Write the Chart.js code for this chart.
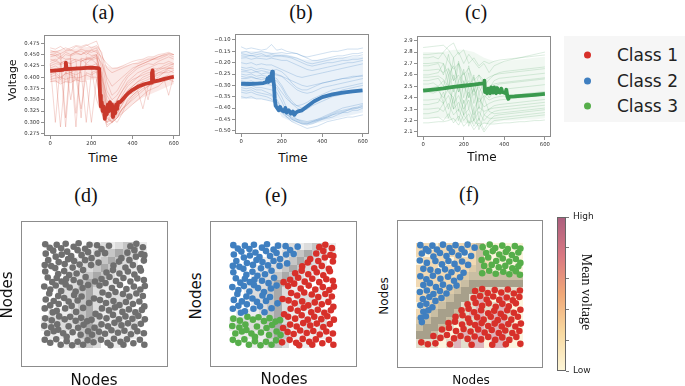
<!DOCTYPE html>
<html>
<head>
<meta charset="utf-8">
<script src="https://cdn.jsdelivr.net/npm/chart.js"></script>
<style>
  body { margin: 0; background: #fff; }
  #fig { position: relative; width: 685px; height: 386px; overflow: hidden; font-family: 'DejaVu Sans', sans-serif; }
  canvas { position: absolute; }
  .lbl { position: absolute; transform: translate(-50%, -50%); white-space: nowrap; line-height: 1; color: #111; }
  .rot { transform: translate(-50%, -50%) rotate(-90deg); }
  .ttl { font-family: 'Liberation Serif', serif; font-size: 20px; }
  #legend { position: absolute; left: 564px; top: 36px; width: 121px; height: 86px; background: #f6f6f6; }
  .item { position: absolute; left: 53px; font-size: 17px; line-height: 1; transform: translateY(-50%); color: #222; }
  .dot { position: absolute; left: 19.5px; width: 7px; height: 7px; border-radius: 50%; transform: translateY(-50%); }
</style>
</head>
<body>
<div id="fig">
  <canvas id="ca" width="190" height="120" style="left:0;top:30px"></canvas>
  <canvas id="cb" width="189" height="120" style="left:190px;top:28px"></canvas>
  <canvas id="cc" width="181" height="121" style="left:380px;top:30px"></canvas>
  <canvas id="cd" width="155" height="154" style="left:17px;top:217px"></canvas>
  <canvas id="ce" width="155" height="154" style="left:206px;top:217px"></canvas>
  <canvas id="cf" width="154" height="156" style="left:393px;top:216px"></canvas>
  <canvas id="cbar" width="76" height="180" style="left:540px;top:205px"></canvas>

  <div class="lbl ttl" style="left:103px;top:12px">(a)</div>
  <div class="lbl ttl" style="left:301px;top:12px">(b)</div>
  <div class="lbl ttl" style="left:476px;top:12px">(c)</div>
  <div class="lbl ttl" style="left:86px;top:195px">(d)</div>
  <div class="lbl ttl" style="left:276px;top:195px">(e)</div>
  <div class="lbl ttl" style="left:469px;top:194px">(f)</div>

  <div class="lbl rot" style="left:12px;top:80px;font-size:11px">Voltage</div>
  <div class="lbl" style="left:103px;top:158px;font-size:12px">Time</div>
  <div class="lbl" style="left:293px;top:158px;font-size:12px">Time</div>
  <div class="lbl" style="left:482px;top:157px;font-size:12px">Time</div>

  <div class="lbl rot" style="left:7px;top:295px;font-size:15px">Nodes</div>
  <div class="lbl" style="left:94px;top:380px;font-size:15px">Nodes</div>
  <div class="lbl rot" style="left:196px;top:296px;font-size:15px">Nodes</div>
  <div class="lbl" style="left:284px;top:379px;font-size:15px">Nodes</div>
  <div class="lbl rot" style="left:384px;top:296px;font-size:12px">Nodes</div>
  <div class="lbl" style="left:471px;top:380px;font-size:12px">Nodes</div>

  <div class="lbl" style="left:586px;top:292px;font-size:14px;font-family:'Liberation Serif',serif;transform:translate(-50%,-50%) rotate(90deg)">Mean voltage</div>

  <div id="legend">
    <div class="dot" style="top:19px;background:#d7302a"></div><div class="item" style="top:19px">Class 1</div>
    <div class="dot" style="top:45px;background:#3f7fc0"></div><div class="item" style="top:45px">Class 2</div>
    <div class="dot" style="top:70px;background:#56ae4a"></div><div class="item" style="top:70px">Class 3</div>
  </div>
</div>

<script>
Chart.defaults.font.family = 'DejaVu Sans';

// ---- time series (a, b, c) ----
const tRaw = [0,25,50,75,100,125,150,175,200,225,250,275,300,325,350,375,400,425,450,475,500,525,550,575,600];
const timeTicks = [0, 200, 400, 600];

const voltTicksA = [0.275,0.300,0.325,0.350,0.375,0.400,0.425,0.450,0.475];
const rawA = [
  [0.455,0.457,0.452,0.458,0.46,0.456,0.462,0.458,0.46,0.465,0.44,0.37,0.35,0.36,0.38,0.40,0.41,0.42,0.425,0.43,0.428,0.435,0.44,0.445,0.44],
  [0.445,0.448,0.44,0.45,0.447,0.452,0.45,0.455,0.448,0.45,0.39,0.33,0.32,0.34,0.36,0.38,0.39,0.40,0.41,0.415,0.42,0.418,0.425,0.43,0.428],
  [0.43,0.30,0.432,0.435,0.43,0.29,0.436,0.44,0.438,0.442,0.36,0.31,0.30,0.32,0.34,0.36,0.37,0.385,0.39,0.35,0.40,0.405,0.41,0.415,0.41],
  [0.42,0.425,0.418,0.422,0.35,0.424,0.42,0.428,0.425,0.43,0.41,0.34,0.31,0.33,0.35,0.37,0.38,0.39,0.395,0.40,0.405,0.41,0.415,0.42,0.418],
  [0.40,0.405,0.395,0.41,0.405,0.40,0.33,0.41,0.405,0.412,0.35,0.30,0.32,0.35,0.37,0.385,0.395,0.40,0.405,0.41,0.41,0.42,0.42,0.425,0.43],
  [0.44,0.436,0.445,0.44,0.442,0.438,0.31,0.445,0.44,0.448,0.43,0.40,0.38,0.39,0.40,0.41,0.42,0.425,0.43,0.435,0.44,0.44,0.445,0.45,0.445],
  [0.39,0.392,0.385,0.39,0.388,0.395,0.39,0.392,0.30,0.395,0.34,0.29,0.30,0.31,0.33,0.34,0.35,0.36,0.37,0.38,0.385,0.39,0.395,0.40,0.40],
  [0.46,0.455,0.46,0.465,0.46,0.468,0.465,0.47,0.475,0.48,0.45,0.42,0.41,0.415,0.42,0.425,0.43,0.43,0.435,0.44,0.44,0.445,0.45,0.452,0.45],
  [0.41,0.412,0.29,0.415,0.41,0.418,0.415,0.42,0.418,0.42,0.38,0.32,0.31,0.30,0.32,0.35,0.36,0.37,0.33,0.38,0.39,0.39,0.40,0.36,0.405],
  [0.45,0.448,0.452,0.31,0.45,0.455,0.45,0.458,0.455,0.46,0.42,0.35,0.33,0.34,0.355,0.37,0.38,0.39,0.40,0.405,0.41,0.415,0.42,0.42,0.425],
  [0.425,0.43,0.428,0.432,0.43,0.435,0.44,0.43,0.44,0.43,0.37,0.315,0.30,0.31,0.33,0.345,0.36,0.37,0.38,0.385,0.39,0.395,0.40,0.405,0.40],
  [0.435,0.44,0.43,0.438,0.44,0.32,0.442,0.44,0.445,0.45,0.40,0.36,0.34,0.35,0.37,0.39,0.40,0.41,0.415,0.42,0.425,0.43,0.43,0.435,0.43],
  [0.465,0.462,0.468,0.46,0.465,0.47,0.468,0.472,0.465,0.47,0.455,0.39,0.36,0.37,0.39,0.405,0.415,0.425,0.43,0.435,0.44,0.445,0.448,0.452,0.45],
  [0.415,0.418,0.412,0.42,0.415,0.422,0.418,0.425,0.42,0.35,0.32,0.30,0.305,0.315,0.33,0.34,0.355,0.365,0.375,0.38,0.388,0.392,0.398,0.40,0.405],
  [0.405,0.41,0.40,0.408,0.41,0.405,0.412,0.30,0.41,0.415,0.33,0.30,0.31,0.33,0.345,0.36,0.365,0.375,0.38,0.39,0.395,0.40,0.41,0.41,0.415],
  [0.45,0.452,0.445,0.455,0.45,0.456,0.458,0.45,0.46,0.455,0.445,0.43,0.42,0.42,0.425,0.43,0.435,0.438,0.44,0.445,0.445,0.45,0.452,0.455,0.45],
  [0.43,0.435,0.43,0.29,0.435,0.44,0.435,0.44,0.442,0.445,0.40,0.33,0.31,0.32,0.34,0.36,0.375,0.38,0.39,0.395,0.40,0.41,0.41,0.42,0.42],
  [0.395,0.398,0.40,0.395,0.40,0.398,0.40,0.405,0.40,0.40,0.32,0.295,0.30,0.31,0.32,0.33,0.34,0.35,0.36,0.37,0.375,0.38,0.39,0.395,0.39]
];
const envTA = [0,50,100,150,200,235,255,300,350,400,450,500,550,600];
const envHiA = [0.458,0.46,0.462,0.465,0.468,0.468,0.43,0.42,0.425,0.43,0.44,0.445,0.45,0.448];
const envLoA = [0.39,0.388,0.39,0.392,0.395,0.395,0.31,0.30,0.32,0.34,0.355,0.365,0.375,0.385];
const meanTA = [0,30,60,72,76,80,120,160,200,230,238,242,246,250,255,260,265,270,275,280,285,290,295,300,305,310,315,320,325,330,340,350,365,380,400,430,460,490,494,497,500,530,560,600];
const meanA = [0.414,0.415,0.416,0.418,0.432,0.418,0.419,0.420,0.421,0.420,0.419,0.36,0.335,0.345,0.325,0.335,0.308,0.33,0.318,0.34,0.325,0.345,0.33,0.34,0.312,0.328,0.32,0.34,0.33,0.345,0.345,0.35,0.358,0.365,0.372,0.38,0.385,0.388,0.41,0.415,0.39,0.393,0.397,0.401];

const voltTicksB = [-0.50,-0.45,-0.40,-0.35,-0.30,-0.25,-0.20,-0.15,-0.10];
const rawB = [
  [-0.155,-0.15,-0.16,-0.155,-0.15,-0.155,-0.16,-0.158,-0.155,-0.16,-0.158,-0.16,-0.17,-0.18,-0.19,-0.19,-0.185,-0.18,-0.175,-0.17,-0.17,-0.165,-0.16,-0.16,-0.155],
  [-0.17,-0.172,-0.168,-0.175,-0.17,-0.172,-0.175,-0.17,-0.172,-0.175,-0.18,-0.19,-0.2,-0.21,-0.215,-0.21,-0.205,-0.2,-0.2,-0.195,-0.19,-0.19,-0.185,-0.185,-0.18],
  [-0.13,-0.14,-0.135,-0.14,-0.145,-0.14,-0.12,-0.145,-0.14,-0.15,-0.155,-0.16,-0.17,-0.175,-0.17,-0.165,-0.16,-0.155,-0.15,-0.15,-0.145,-0.14,-0.14,-0.14,-0.135],
  [-0.22,-0.225,-0.22,-0.23,-0.225,-0.23,-0.235,-0.23,-0.24,-0.26,-0.29,-0.31,-0.32,-0.32,-0.31,-0.3,-0.29,-0.285,-0.28,-0.275,-0.27,-0.265,-0.26,-0.26,-0.255],
  [-0.25,-0.255,-0.25,-0.26,-0.255,-0.26,-0.26,-0.27,-0.3,-0.34,-0.37,-0.39,-0.40,-0.39,-0.375,-0.36,-0.35,-0.34,-0.335,-0.33,-0.32,-0.315,-0.31,-0.305,-0.3],
  [-0.28,-0.285,-0.28,-0.29,-0.29,-0.295,-0.3,-0.31,-0.35,-0.4,-0.43,-0.45,-0.46,-0.465,-0.46,-0.45,-0.44,-0.43,-0.42,-0.41,-0.4,-0.395,-0.39,-0.385,-0.38],
  [-0.31,-0.315,-0.31,-0.32,-0.32,-0.33,-0.34,-0.36,-0.40,-0.44,-0.46,-0.47,-0.48,-0.49,-0.485,-0.48,-0.47,-0.46,-0.455,-0.45,-0.445,-0.44,-0.44,-0.435,-0.43],
  [-0.35,-0.355,-0.35,-0.36,-0.36,-0.365,-0.37,-0.38,-0.41,-0.43,-0.44,-0.45,-0.455,-0.46,-0.455,-0.45,-0.445,-0.44,-0.43,-0.425,-0.42,-0.41,-0.40,-0.40,-0.39],
  [-0.2,-0.205,-0.2,-0.21,-0.205,-0.21,-0.21,-0.22,-0.23,-0.24,-0.25,-0.26,-0.265,-0.26,-0.255,-0.25,-0.245,-0.24,-0.235,-0.23,-0.225,-0.22,-0.215,-0.21,-0.205],
  [-0.27,-0.27,-0.265,-0.27,-0.275,-0.27,-0.28,-0.3,-0.33,-0.36,-0.38,-0.39,-0.385,-0.375,-0.36,-0.35,-0.34,-0.33,-0.32,-0.315,-0.31,-0.305,-0.30,-0.295,-0.29],
  [-0.24,-0.24,-0.245,-0.24,-0.25,-0.245,-0.25,-0.255,-0.26,-0.27,-0.28,-0.29,-0.3,-0.305,-0.3,-0.295,-0.29,-0.285,-0.28,-0.275,-0.27,-0.27,-0.265,-0.26,-0.26],
  [-0.33,-0.335,-0.33,-0.34,-0.345,-0.35,-0.36,-0.39,-0.42,-0.44,-0.45,-0.46,-0.47,-0.47,-0.46,-0.455,-0.45,-0.445,-0.44,-0.43,-0.42,-0.42,-0.41,-0.41,-0.4],
  [-0.16,-0.165,-0.17,-0.165,-0.16,-0.17,-0.165,-0.17,-0.168,-0.17,-0.175,-0.18,-0.19,-0.2,-0.205,-0.2,-0.195,-0.19,-0.185,-0.18,-0.18,-0.175,-0.17,-0.17,-0.165],
  [-0.18,-0.178,-0.185,-0.18,-0.182,-0.185,-0.18,-0.185,-0.19,-0.19,-0.2,-0.21,-0.22,-0.23,-0.235,-0.23,-0.225,-0.22,-0.215,-0.21,-0.205,-0.2,-0.2,-0.195,-0.19],
  [-0.26,-0.265,-0.26,-0.27,-0.265,-0.27,-0.275,-0.28,-0.31,-0.35,-0.38,-0.4,-0.41,-0.405,-0.39,-0.38,-0.37,-0.36,-0.35,-0.345,-0.34,-0.335,-0.33,-0.325,-0.32],
  [-0.3,-0.305,-0.3,-0.31,-0.31,-0.315,-0.32,-0.33,-0.37,-0.42,-0.45,-0.46,-0.47,-0.475,-0.47,-0.46,-0.45,-0.44,-0.43,-0.42,-0.415,-0.41,-0.405,-0.4,-0.395],
  [-0.23,-0.235,-0.23,-0.24,-0.235,-0.24,-0.245,-0.25,-0.26,-0.28,-0.3,-0.32,-0.33,-0.335,-0.33,-0.32,-0.31,-0.305,-0.3,-0.295,-0.29,-0.285,-0.28,-0.275,-0.27],
  [-0.32,-0.325,-0.32,-0.33,-0.335,-0.34,-0.345,-0.37,-0.4,-0.43,-0.445,-0.455,-0.465,-0.47,-0.465,-0.455,-0.445,-0.435,-0.425,-0.415,-0.41,-0.405,-0.4,-0.395,-0.385]
];
const envTB = [0,50,100,150,165,200,250,300,350,400,450,500,550,600];
const envHiB = [-0.15,-0.15,-0.152,-0.155,-0.158,-0.16,-0.17,-0.185,-0.19,-0.185,-0.18,-0.178,-0.175,-0.172];
const envLoB = [-0.36,-0.36,-0.36,-0.37,-0.38,-0.44,-0.46,-0.47,-0.47,-0.46,-0.45,-0.44,-0.43,-0.42];
const meanTB = [0,40,80,110,125,130,135,140,145,150,153,157,162,166,170,178,185,192,200,210,218,225,235,245,255,262,270,280,300,330,360,400,450,500,550,598];
const meanB = [-0.293,-0.294,-0.292,-0.29,-0.285,-0.27,-0.285,-0.262,-0.28,-0.255,-0.24,-0.265,-0.30,-0.36,-0.39,-0.40,-0.41,-0.395,-0.41,-0.415,-0.40,-0.42,-0.41,-0.425,-0.415,-0.43,-0.42,-0.415,-0.41,-0.39,-0.37,-0.352,-0.34,-0.332,-0.327,-0.322];

const voltTicksC = [2.1,2.2,2.3,2.4,2.5,2.6,2.7,2.8,2.9];
const rawC = [
  [2.84,2.845,2.85,2.855,2.86,2.82,2.75,2.8,2.7,2.78,2.72,2.66,2.7,2.62,2.68,2.7,2.72,2.73,2.74,2.75,2.76,2.77,2.78,2.79,2.8],
  [2.78,2.78,2.785,2.79,2.79,2.72,2.65,2.7,2.6,2.66,2.55,2.6,2.5,2.56,2.6,2.62,2.63,2.635,2.64,2.645,2.65,2.655,2.66,2.665,2.67],
  [2.7,2.7,2.705,2.71,2.7,2.6,2.68,2.55,2.62,2.5,2.58,2.45,2.52,2.48,2.55,2.57,2.575,2.58,2.585,2.59,2.595,2.6,2.605,2.61,2.615],
  [2.64,2.64,2.645,2.65,2.62,2.66,2.55,2.6,2.48,2.55,2.42,2.5,2.4,2.45,2.5,2.52,2.525,2.53,2.535,2.54,2.545,2.55,2.555,2.56,2.565],
  [2.58,2.58,2.585,2.59,2.56,2.5,2.6,2.45,2.52,2.4,2.48,2.36,2.42,2.38,2.4,2.41,2.415,2.42,2.425,2.43,2.435,2.44,2.445,2.45,2.455],
  [2.52,2.52,2.53,2.5,2.55,2.45,2.4,2.5,2.35,2.45,2.3,2.4,2.32,2.35,2.37,2.38,2.385,2.39,2.395,2.4,2.405,2.41,2.415,2.42,2.425],
  [2.45,2.45,2.44,2.46,2.4,2.48,2.35,2.42,2.3,2.38,2.25,2.32,2.28,2.3,2.33,2.34,2.345,2.35,2.355,2.36,2.365,2.37,2.375,2.38,2.385],
  [2.38,2.38,2.385,2.39,2.35,2.42,2.3,2.36,2.25,2.3,2.2,2.28,2.2,2.25,2.28,2.29,2.295,2.3,2.305,2.31,2.315,2.32,2.325,2.33,2.335],
  [2.3,2.3,2.305,2.31,2.28,2.35,2.25,2.3,2.2,2.26,2.15,2.22,2.12,2.2,2.24,2.25,2.255,2.26,2.265,2.27,2.275,2.28,2.285,2.29,2.295],
  [2.22,2.22,2.225,2.23,2.2,2.26,2.18,2.24,2.15,2.2,2.12,2.18,2.1,2.16,2.2,2.205,2.21,2.215,2.22,2.225,2.23,2.235,2.24,2.245,2.25],
  [2.18,2.18,2.185,2.19,2.19,2.2,2.22,2.16,2.25,2.18,2.2,2.15,2.18,2.17,2.17,2.175,2.18,2.18,2.185,2.19,2.19,2.195,2.2,2.2,2.205],
  [2.75,2.75,2.76,2.74,2.8,2.85,2.88,2.78,2.82,2.7,2.75,2.68,2.72,2.7,2.72,2.73,2.735,2.74,2.745,2.75,2.755,2.76,2.765,2.77,2.775],
  [2.6,2.6,2.61,2.62,2.7,2.5,2.75,2.45,2.65,2.4,2.6,2.3,2.5,2.4,2.45,2.47,2.475,2.48,2.485,2.49,2.495,2.5,2.505,2.51,2.515],
  [2.48,2.48,2.49,2.5,2.35,2.6,2.3,2.55,2.25,2.5,2.2,2.45,2.25,2.3,2.31,2.315,2.32,2.325,2.33,2.335,2.34,2.345,2.35,2.355,2.36],
  [2.34,2.34,2.35,2.36,2.45,2.3,2.5,2.28,2.55,2.3,2.5,2.2,2.4,2.28,2.26,2.265,2.27,2.275,2.28,2.285,2.29,2.295,2.3,2.305,2.31],
  [2.68,2.68,2.69,2.7,2.6,2.78,2.55,2.72,2.5,2.68,2.45,2.6,2.55,2.58,2.6,2.61,2.615,2.62,2.625,2.63,2.635,2.64,2.645,2.65,2.655],
  [2.26,2.26,2.27,2.28,2.35,2.22,2.4,2.2,2.38,2.15,2.3,2.12,2.25,2.22,2.22,2.225,2.23,2.235,2.24,2.245,2.25,2.255,2.26,2.265,2.27],
  [2.55,2.55,2.56,2.57,2.5,2.65,2.45,2.7,2.4,2.62,2.35,2.55,2.45,2.5,2.52,2.53,2.535,2.54,2.545,2.55,2.555,2.56,2.565,2.57,2.575]
];
const envTC = [0,100,150,200,250,300,350,400,450,500,550,600];
const envHiC = [2.8,2.8,2.82,2.82,2.8,2.75,2.72,2.72,2.73,2.74,2.75,2.76];
const envLoC = [2.22,2.22,2.2,2.18,2.17,2.17,2.18,2.2,2.2,2.21,2.21,2.22];
const meanTC = [0,50,100,150,200,250,295,300,302,305,310,315,320,325,330,335,340,345,350,355,360,365,370,380,385,390,400,405,410,415,420,425,450,500,550,600];
const meanC = [2.462,2.472,2.482,2.495,2.505,2.515,2.525,2.52,2.55,2.45,2.46,2.44,2.48,2.45,2.44,2.49,2.45,2.445,2.49,2.45,2.44,2.485,2.45,2.445,2.48,2.45,2.445,2.44,2.47,2.41,2.39,2.41,2.412,2.418,2.425,2.433];

// ---- node maps (d, e, f) : [x, y] on a 0..20 board ----
const class1DE = [
  [17.4,19.7],[18.6,20.2],[19.9,19.5],[16.8,18.4],[18.2,18.9],[19.6,18.1],[15.6,17.3],[17.2,16.9],
  [18.5,17.6],[20.1,16.8],[14.0,15.8],[15.1,16.6],[16.4,15.4],[17.9,15.9],[19.3,15.3],[20.2,17.9],
  [12.6,14.4],[13.9,14.9],[15.2,14.2],[16.9,14.6],[18.2,14.0],[19.5,14.8],
  [11.6,13.1],[13.2,13.5],[14.5,12.7],[16.0,13.3],[17.4,12.6],[18.8,13.2],[20.1,12.9],
  [11.2,11.8],[12.4,12.3],[13.7,11.3],[15.3,11.9],[16.6,11.1],[18.1,11.6],[19.4,11.0],[20.3,11.7],
  [11.8,10.4],[13.0,9.9],[14.4,10.5],[15.9,10.1],[17.2,9.6],[18.6,10.2],[19.9,9.7],
  [11.3,8.9],[12.5,8.3],[14.0,8.7],[15.2,7.9],[16.5,8.5],[17.9,8.1],[19.2,8.6],[20.2,7.6],
  [11.7,7.2],[13.1,6.8],[14.3,7.4],[15.8,6.5],[17.1,7.0],[18.4,6.4],[19.7,6.9],
  [11.2,5.6],[12.6,5.2],[13.9,5.9],[15.1,5.0],[16.4,5.6],[17.8,5.1],[19.0,5.7],[20.3,5.0],
  [11.6,4.0],[12.9,3.6],[14.2,4.3],[15.6,3.8],[16.9,4.2],[18.2,3.5],[19.5,4.1],
  [11.1,2.5],[12.3,2.1],[13.6,2.8],[14.9,2.3],[16.2,2.7],[17.5,2.0],[18.8,2.6],[20.1,2.2],
  [11.5,0.9],[12.8,0.3],[14.1,1.1],[15.4,0.5],[16.7,1.0],[18.0,0.2],[19.3,0.9],[20.2,-0.1],[13.4,-0.2],[16.0,-0.1],
  [10.3,12.6],[10.1,9.2],[10.4,6.1],[10.2,3.3],[10.0,0.4]
];
const class2DE = [
  [0.3,20.1],[1.2,19.4],[2.6,20.0],[3.5,19.3],[4.4,20.2],[6.0,19.6],[7.0,20.3],[8.3,19.2],[9.2,20.0],[10.7,19.9],[11.6,19.1],[13.1,19.8],
  [0.4,18.2],[1.9,18.8],[2.4,17.6],[3.6,18.0],[4.7,18.6],[5.5,17.7],[6.8,18.9],[7.6,17.9],[8.9,18.5],[9.6,17.3],[10.8,18.2],[12.3,18.3],
  [0.9,16.9],[1.5,15.7],[3.0,16.5],[4.2,16.1],[4.9,17.1],[6.1,16.7],[7.2,16.0],[8.3,16.9],[9.5,15.9],[11.0,16.4],[0.2,15.9],
  [0.3,14.6],[2.3,15.3],[2.9,14.1],[4.1,14.7],[5.8,15.4],[6.6,14.2],[7.9,14.9],[5.1,13.9],
  [0.8,13.4],[1.7,12.5],[2.6,13.3],[3.6,12.6],[4.5,13.1],[6.0,12.9],[7.3,12.4],[8.4,13.5],
  [0.1,11.6],[1.3,11.0],[2.4,11.8],[3.5,10.7],[5.2,11.4],[6.4,10.6],[7.8,11.3],[4.4,12.0],
  [1.1,10.2],[0.4,9.0],[2.0,8.7],[2.9,9.7],[4.1,9.3],[5.0,8.6],[6.1,9.9],[6.8,8.8],[7.6,9.6],
  [0.2,7.2],[1.3,7.8],[2.6,6.7],[3.0,8.1],[4.3,7.2],[5.6,7.7],[6.5,6.5],[7.9,7.3],[1.8,6.4],
  [8.9,11.9],[9.1,8.3]
];
const class3DE = [
  [0.3,5.2],[1.6,4.8],[3.1,5.6],[4.2,5.0],[5.3,5.5],[6.4,4.7],[7.5,5.3],[8.7,4.6],
  [0.1,3.7],[1.5,3.4],[2.7,4.0],[5.0,3.6],[6.9,3.3],[8.0,3.9],[8.9,2.6],
  [0.7,2.2],[2.0,2.6],[3.9,2.2],[5.8,2.4],[7.4,1.9],
  [0.2,0.9],[1.3,0.3],[2.5,1.0],[3.4,-0.1],[4.6,0.6],[5.7,-0.2],[6.8,0.5],[7.9,-0.1],[8.8,0.8],[2.9,2.9],[4.6,1.5],
  [9.6,4.9],[9.7,1.9]
];
const class1F = [
  [11.2,10.8],[12.6,11.2],[13.7,10.4],[15.1,11.0],[16.4,10.5],[17.7,11.1],[18.9,10.3],[20.1,10.9],
  [10.9,9.4],[12.2,9.8],[13.5,9.1],[14.8,9.7],[16.0,9.0],[17.5,9.5],[18.7,8.9],[20.0,9.6],
  [9.7,8.1],[11.3,8.4],[12.6,7.8],[13.9,8.3],[15.3,7.6],[16.6,8.2],[17.9,7.7],[19.3,8.3],
  [8.5,6.9],[9.9,7.2],[11.0,6.5],[12.4,6.9],[13.8,6.3],[15.0,6.8],[16.3,6.2],[17.6,6.9],[18.9,6.4],[20.2,7.0],
  [7.3,5.6],[8.7,5.9],[9.8,5.2],[11.6,5.5],[12.9,5.0],[14.3,5.6],[15.7,4.9],[17.0,5.5],[18.4,5.0],[19.7,5.6],
  [5.9,4.3],[7.2,4.6],[8.6,4.0],[10.1,4.4],[11.2,3.9],[12.5,4.3],[13.8,3.7],[15.1,4.2],[16.5,3.6],[17.8,4.1],[19.2,3.6],[20.3,4.2],
  [4.6,3.0],[6.0,3.3],[7.4,2.7],[8.9,3.1],[10.3,2.6],[11.8,3.0],[13.1,2.4],[14.5,2.9],[15.9,2.3],[17.2,2.8],[18.6,2.3],[20.0,2.7],
  [2.9,1.7],[4.3,1.3],[5.6,1.9],[7.0,1.2],[8.3,1.7],[9.7,1.1],[11.1,1.6],[12.4,1.0],[13.8,1.5],[15.2,0.9],[16.6,1.4],[18.0,0.9],[19.4,1.5],
  [0.5,0.4],[1.8,0.0],[3.3,0.2],[6.2,0.0],[10.5,-0.1],[14.6,-0.1],[17.3,0.0],[20.2,0.1]
];
const class2F = [
  [0.3,20.1],[1.4,19.3],[2.7,20.0],[3.6,19.2],[4.8,20.2],[6.1,19.5],[7.3,20.1],[8.5,19.3],[9.7,20.2],[11.1,19.6],
  [0.6,18.4],[1.9,18.9],[2.9,17.8],[4.2,18.5],[5.5,17.9],[6.6,18.7],[7.9,18.0],[9.1,18.6],[10.4,17.9],
  [0.2,17.0],[1.6,16.5],[3.3,16.9],[4.6,16.2],[5.9,16.9],[7.1,16.3],[8.6,16.8],[9.8,16.1],
  [0.9,15.3],[2.3,15.1],[3.8,14.8],[5.2,15.2],[6.5,14.6],[7.7,15.3],[8.9,14.5],
  [0.3,13.8],[1.5,13.2],[2.8,13.9],[4.3,13.3],[5.8,13.7],[7.0,12.9],[8.2,13.6],
  [0.9,12.0],[2.2,12.4],[3.4,11.6],[4.8,12.1],[6.1,11.5],[7.5,11.9],
  [0.2,10.6],[1.6,10.9],[2.9,10.2],[4.2,10.8],[5.5,10.3],
  [0.8,9.2],[2.1,9.6],[3.3,8.8],[4.5,9.4],
  [0.3,7.9],[1.5,8.2],[2.7,7.5],[0.9,6.6],[1.9,6.9],[0.4,5.4],[1.4,5.7],[0.6,4.5]
];
const class3F = [
  [12.7,19.7],[14.1,20.2],[15.2,19.5],[16.6,20.0],[17.7,19.3],[19.1,19.9],[20.2,19.4],
  [13.4,18.5],[14.7,18.9],[16.0,18.2],[17.3,18.7],[18.5,18.1],[19.8,18.6],
  [12.5,17.1],[13.8,17.6],[15.4,16.9],[16.7,17.4],[18.0,16.8],[19.3,17.3],[20.2,16.5],
  [13.0,15.9],[14.5,16.1],[15.9,15.6],[17.2,15.9],[18.6,15.4],[19.8,15.8],
  [12.6,14.4],[14.0,14.9],[15.3,14.3],[16.8,14.7],[18.0,14.2],[19.3,14.8],[20.1,14.1]
];

// heat levels behind the nodes, 14 x 14 cells, top row first
const heatDE = [
  [0,0,0,0,0,0,1,1,2,1,2,3,3,1],
  [0,0,0,0,0,1,1,2,2,3,4,3,2,1],
  [0,0,0,0,1,1,2,2,3,4,3,2,1,0],
  [0,0,0,1,1,2,2,3,4,3,2,1,1,0],
  [0,0,0,1,2,2,3,4,3,2,1,1,0,0],
  [0,0,1,1,2,3,4,3,2,1,1,0,0,0],
  [0,0,1,2,2,3,4,2,1,1,0,1,1,0],
  [0,0,1,2,2,3,4,2,1,2,2,2,1,0],
  [0,0,0,1,2,3,4,2,1,2,2,1,0,0],
  [0,1,1,1,2,3,4,2,1,1,1,1,1,0],
  [1,2,2,2,2,3,4,2,1,1,2,1,2,0],
  [1,2,2,2,2,3,4,3,1,1,2,1,2,0],
  [0,1,1,1,1,3,4,3,1,1,1,1,1,0],
  [0,0,0,1,1,2,3,2,0,1,1,0,0,0]
];
const heatF = [
  [1,1,0,1,1,1,1,1,3,0,0,0,0,0],
  [1,0,1,1,1,1,0,1,3,0,0,0,0,0],
  [0,1,1,1,0,1,1,1,3,1,0,0,0,0],
  [1,1,1,0,1,1,1,6,3,1,0,0,0,0],
  [1,1,1,1,1,1,6,3,3,3,3,3,3,3],
  [1,1,1,1,1,6,3,4,4,4,4,4,4,4],
  [0,1,1,1,6,3,4,4,3,2,2,2,2,2],
  [1,1,1,6,3,4,4,2,5,2,0,5,2,0],
  [0,1,6,3,4,4,2,2,5,2,2,5,0,0],
  [1,6,3,4,4,3,2,5,5,2,5,5,2,0],
  [6,3,4,4,3,2,2,2,5,2,5,5,2,0],
  [3,4,4,3,2,0,2,2,5,2,5,2,2,0],
  [4,4,3,2,0,2,5,2,5,2,5,5,2,0],
  [2,2,2,0,2,5,2,5,5,0,5,5,0,0]
];
const greyPalette = ['#ffffff','#ececec','#dcdcdc','#c6c6c6','#a9a9a9'];
const warmPalette = ['#fcf4dd','#f1d9b3','#e2ddcc','#c9bea3','#a7a08b','#ddb4bb','#dccaa8'];

const cbTicks = [0,0.2,0.4,0.6,0.8,1];
const cbText = ['Low','','','','','High'];
const cbColors = ['#fdf6d8','#f8d9a0','#f0a878','#d97882','#ab5f7e'];

// ---- helpers ----
function pts(ts, vs) { return ts.map((t, i) => ({ x: t, y: vs[i] })); }

const frame = {
  id: 'frame',
  afterDatasetsDraw(chart) {
    const { ctx, chartArea: a } = chart;
    ctx.save();
    ctx.strokeStyle = chart.config.options.frameColor || '#8c8c8c';
    ctx.lineWidth = 1;
    ctx.strokeRect(Math.round(a.left) + 0.5, Math.round(a.top) + 0.5, Math.round(a.width) - 1, Math.round(a.height) - 1);
    ctx.restore();
  }
};

function heat(grid, palette) {
  return {
    id: 'heat',
    beforeDatasetsDraw(chart) {
      const { ctx, scales: { x, y } } = chart;
      grid.forEach((row, r) => row.forEach((v, c) => {
        const x0 = x.getPixelForValue(-0.5 + 1.5 * c), x1 = x.getPixelForValue(1 + 1.5 * c);
        const y0 = y.getPixelForValue(20.5 - 1.5 * r), y1 = y.getPixelForValue(19 - 1.5 * r);
        ctx.fillStyle = palette[v];
        ctx.fillRect(Math.floor(x0), Math.floor(y0), Math.ceil(x1 - x0) + 1, Math.ceil(y1 - y0) + 1);
      }));
    }
  };
}

const tickFont = { size: 5.3, family: 'DejaVu Sans' };

function traceChart(id, o) {
  const datasets = [
    { data: pts(o.meanT, o.mean), borderColor: o.strong, borderWidth: 3.8 },
    ...o.raw.map(v => ({ data: pts(tRaw, v), borderColor: o.faint, borderWidth: 0.8 })),
    { data: pts(o.envT, o.envHi), borderWidth: 0, borderColor: 'rgba(0,0,0,0)', fill: '+1', backgroundColor: o.band },
    { data: pts(o.envT, o.envLo), borderWidth: 0, borderColor: 'rgba(0,0,0,0)', fill: false }
  ];
  new Chart(document.getElementById(id), {
    type: 'line',
    data: { datasets },
    options: {
      responsive: false, animation: false, devicePixelRatio: 1,
      layout: { padding: o.pad },
      plugins: { legend: { display: false }, tooltip: { enabled: false } },
      elements: { point: { radius: 0 }, line: { tension: 0, borderJoinStyle: 'round' } },
      scales: {
        x: {
          type: 'linear', min: -30, max: 630,
          afterBuildTicks: s => { s.ticks = timeTicks.map(v => ({ value: v })); },
          afterFit: s => { s.height = 14; },
          ticks: { font: tickFont, color: '#333', padding: 1, maxRotation: 0, autoSkip: false, callback: v => String(v) },
          grid: { drawOnChartArea: false, tickLength: 3, tickColor: '#444', tickWidth: 0.6 },
          border: { display: false }
        },
        y: {
          min: o.min, max: o.max,
          afterBuildTicks: s => { s.ticks = o.ticks.map(v => ({ value: v })); },
          afterFit: s => { s.width = o.yw; },
          ticks: { font: tickFont, color: '#333', padding: 1.5, autoSkip: false, callback: o.fmt },
          grid: { drawOnChartArea: false, tickLength: 3, tickColor: '#444', tickWidth: 0.6 },
          border: { display: false }
        }
      }
    },
    plugins: [frame]
  });
}

traceChart('ca', { raw: rawA, meanT: meanTA, mean: meanA, envT: envTA, envHi: envHiA, envLo: envLoA,
  strong: '#c9382b', faint: 'rgba(214,84,68,0.3)', band: 'rgba(232,120,108,0.16)',
  min: 0.2699, max: 0.4934, ticks: voltTicksA, fmt: v => v.toFixed(3), yw: 44, pad: { top: 5, right: 10 } });
traceChart('cb', { raw: rawB, meanT: meanTB, mean: meanB, envT: envTB, envHi: envHiB, envLo: envLoB,
  strong: '#3c7bb8', faint: 'rgba(70,132,196,0.32)', band: 'rgba(120,170,220,0.16)',
  min: -0.5145, max: -0.0736, ticks: voltTicksB, fmt: v => v.toFixed(2).replace('-', '\u2212'), yw: 45, pad: { top: 6, right: 10 } });
traceChart('cc', { raw: rawC, meanT: meanTC, mean: meanC, envT: envTC, envHi: envHiC, envLo: envLoC,
  strong: '#3a9a4e', faint: 'rgba(70,160,90,0.24)', band: 'rgba(120,190,130,0.10)',
  min: 2.056, max: 2.941, ticks: voltTicksC, fmt: v => v.toFixed(1), yw: 37, pad: { top: 6, right: 10 } });

function nodeChart(id, sets, grid, palette, xr, yr) {
  new Chart(document.getElementById(id), {
    type: 'scatter',
    data: { datasets: sets.map(s => ({ data: s.nodes.map(p => ({ x: p[0], y: p[1] })), backgroundColor: s.color, borderWidth: 0, pointRadius: 3.3 })) },
    options: {
      responsive: false, animation: false, devicePixelRatio: 1,
      plugins: { legend: { display: false }, tooltip: { enabled: false } },
      scales: { x: { display: false, min: xr[0], max: xr[1] }, y: { display: false, min: yr[0], max: yr[1] } }
    },
    plugins: [heat(grid, palette), frame]
  });
}

const allDE = class1DE.concat(class2DE, class3DE);
nodeChart('cd', [{ nodes: allDE, color: '#6f6f6f' }], heatDE, greyPalette, [-4.57, 24.95], [-4.57, 24.76]);
nodeChart('ce', [{ nodes: class1DE, color: '#d7302a' }, { nodes: class2DE, color: '#3f7fc0' }, { nodes: class3DE, color: '#56ae4a' }],
  heatDE, greyPalette, [-4.34, 24.9], [-4.6, 25.0]);
nodeChart('cf', [{ nodes: class1F, color: '#d7302a' }, { nodes: class2F, color: '#3f7fc0' }, { nodes: class3F, color: '#56ae4a' }],
  heatF, warmPalette, [-4.34, 24.7], [-4.8, 25.2]);

// colour bar
new Chart(document.getElementById('cbar'), {
  type: 'bar',
  data: { labels: ['mean'], datasets: [{
    data: [[0, 1]], borderWidth: 0, barPercentage: 1, categoryPercentage: 1,
    backgroundColor: c => {
      const a = c.chart.chartArea;
      if (!a) return cbColors[0];
      const g = c.chart.ctx.createLinearGradient(0, a.bottom, 0, a.top);
      cbColors.forEach((col, i) => g.addColorStop(i / (cbColors.length - 1), col));
      return g;
    }
  }] },
  options: {
    responsive: false, animation: false, devicePixelRatio: 1,
    frameColor: '#666',
    layout: { padding: { left: 17, top: 12, bottom: 14 } },
    plugins: { legend: { display: false }, tooltip: { enabled: false } },
    scales: {
      x: { display: false },
      y: {
        position: 'right', min: 0, max: 1,
        afterBuildTicks: s => { s.ticks = cbTicks.map(v => ({ value: v })); },
        afterFit: s => { s.width = 50; },
        ticks: { font: { size: 9, family: 'DejaVu Sans' }, color: '#222', padding: 4, autoSkip: false, callback: (v, i) => cbText[i] },
        grid: { drawOnChartArea: false, tickLength: 3, tickColor: '#555', tickWidth: 0.8 },
        border: { display: false }
      }
    }
  },
  plugins: [frame]
});
</script>
</body>
</html>
